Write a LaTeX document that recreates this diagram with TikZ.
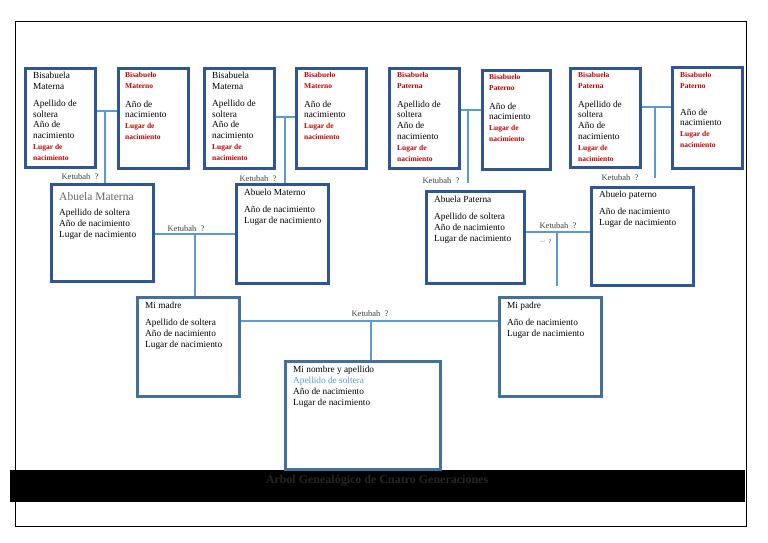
\documentclass[tikz,border=0pt]{standalone}
\usepackage{fontspec}
\setmainfont{Liberation Serif}
\newcommand{\rl}[1]{\textcolor{rd}{\fontsize{7.5}{8.5}\selectfont\bfseries #1}}
\newcommand{\rb}[1]{\textcolor{rd}{\fontsize{7.5}{9.5}\selectfont\bfseries #1}}
\begin{document}
\begin{tikzpicture}[x=1pt,y=-1pt,
 box/.style={draw=bdark,line width=3pt,anchor=north west,inner sep=0pt},
 boxl/.style={draw=blight,line width=3pt,anchor=north west,inner sep=0pt},
 txt/.style={anchor=north west,align=left,inner sep=0pt,font=\fontsize{9.3}{10.8}\selectfont},
 con/.style={draw=lb,line width=1.3pt},
 ket/.style={font=\fontsize{8.5}{9}\selectfont,text=black!75,inner sep=0pt}]
\definecolor{bdark}{HTML}{2F5597}
\definecolor{blight}{HTML}{41719C}
\definecolor{lb}{HTML}{5B9BD5}
\definecolor{rd}{HTML}{C00000}
\useasboundingbox (0,0) rectangle (768,543);
\fill[white] (0,0) rectangle (768,543);
\draw[line width=1pt] (15,22) rectangle (746,526);
\fill[black] (10,470) rectangle (745,502);
\node[font=\fontsize{12}{14}\selectfont\bfseries,text=black!85!white] (title) at (377,480) {Árbol Genealógico de Cuatro Generaciones};
% row 1
\node[box,minimum width=70,minimum height=99] (a1) at (24,67) {};
\node[box,minimum width=70,minimum height=100] (a2) at (117,67) {};
\node[box,minimum width=70,minimum height=100] (a3) at (203,67) {};
\node[box,minimum width=70,minimum height=100] (a4) at (295,67) {};
\node[box,minimum width=70,minimum height=100] (a5) at (388,67) {};
\node[box,minimum width=68,minimum height=99] (a6) at (481,69) {};
\node[box,minimum width=70,minimum height=99] (a7) at (569,67) {};
\node[box,minimum width=70,minimum height=101] (a8) at (671,66) {};
\node[txt] (t1) at (33,72) {Bisabuela\\Materna\\[6pt]Apellido de\\soltera\\Año de\\nacimiento\\\rl{Lugar de}\\\rl{nacimiento}};
\node[txt] (t2) at (125,72) {\rb{Bisabuelo}\\\rb{Materno}\\[8pt]Año de\\nacimiento\\\rl{Lugar de}\\\rl{nacimiento}};
\node[txt] (t3) at (212,72) {Bisabuela\\Materna\\[6pt]Apellido de\\soltera\\Año de\\nacimiento\\\rl{Lugar de}\\\rl{nacimiento}};
\node[txt] (t4) at (304,72) {\rb{Bisabuelo}\\\rb{Materno}\\[8pt]Año de\\nacimiento\\\rl{Lugar de}\\\rl{nacimiento}};
\node[txt] (t5) at (397,72) {\rb{Bisabuela}\\\rb{Paterna}\\[8pt]Apellido de\\soltera\\Año de\\nacimiento\\\rl{Lugar de}\\\rl{nacimiento}};
\node[txt] (t6) at (489,74) {\rb{Bisabuelo}\\\rb{Paterno}\\[8pt]Año de\\nacimiento\\\rl{Lugar de}\\\rl{nacimiento}};
\node[txt] (t7) at (578,72) {\rb{Bisabuela}\\\rb{Paterna}\\[8pt]Apellido de\\soltera\\Año de\\nacimiento\\\rl{Lugar de}\\\rl{nacimiento}};
\node[txt] (t8) at (680,72) {\rb{Bisabuelo}\\\rb{Paterno}\\[16pt]Año de\\nacimiento\\\rl{Lugar de}\\\rl{nacimiento}};
% row 2
\node[box,minimum width=102,minimum height=97] (b1) at (50,183) {};
\node[box,minimum width=92,minimum height=99] (b2) at (235,183) {};
\node[box,minimum width=98,minimum height=92] (b3) at (425,190) {};
\node[box,minimum width=102,minimum height=98] (b4) at (590,186) {};
\node[txt] (u1) at (59,192) {\textcolor{black!60}{\fontsize{11.5}{13}\selectfont Abuela Materna}\\[5pt]Apellido de soltera\\Año de nacimiento\\Lugar de nacimiento};
\node[txt] (u2) at (244,189) {Abuelo Materno\\[6pt]Año de nacimiento\\Lugar de nacimiento};
\node[txt] (u3) at (434,196) {Abuela Paterna\\[6pt]Apellido de soltera\\Año de nacimiento\\Lugar de nacimiento};
\node[txt] (u4) at (599,191) {Abuelo paterno\\[6pt]Año de nacimiento\\Lugar de nacimiento};
% row 3
\node[boxl,minimum width=102,minimum height=99] (c1) at (136,296) {};
\node[boxl,minimum width=102,minimum height=99] (c2) at (498,296) {};
\node[boxl,minimum width=155,minimum height=108] (me) at (284,360) {};
\node[txt] (v1) at (145,302) {Mi madre\\[6pt]Apellido de soltera\\Año de nacimiento\\Lugar de nacimiento};
\node[txt] (v2) at (507,302) {Mi padre\\[6pt]Año de nacimiento\\Lugar de nacimiento};
\node[txt] (v3) at (293,366) {Mi nombre y apellido\\\textcolor{lb}{Apellido de soltera}\\Año de nacimiento\\Lugar de nacimiento};
% connectors row1
\coordinate (j1) at (105,111); \draw[con] (a1.east|-j1) -- (a2.west|-j1); \draw[con] (j1) -- (j1|-b1.north);
\coordinate (j2) at (285,117); \draw[con] (a3.east|-j2) -- (a4.west|-j2); \draw[con] (j2) -- (j2|-b2.north);
\coordinate (j3) at (468,110); \coordinate (e3) at (468,183); \draw[con] (a5.east|-j3) -- (a6.west|-j3); \draw[con] (j3) -- (e3);
\coordinate (j4) at (655,107); \coordinate (e4) at (655,178); \draw[con] (a7.east|-j4) -- (a8.west|-j4); \draw[con] (j4) -- (e4);
\node[ket] (k1) at (80,177) {Ketubah\ \ ?};
\node[ket] (k2) at (258,179) {Ketubah\ \ ?};
\node[ket] (k3) at (441,181) {Ketubah\ \ ?};
\node[ket] (k4) at (620,178) {Ketubah\ \ ?};
% row2
\coordinate (j5) at (195,234); \draw[con] (b1.east|-j5) -- (b2.west|-j5); \draw[con] (j5) -- (j5|-c1.north);
\coordinate (j6) at (557,232); \coordinate (e6) at (557,286); \draw[con] (b3.east|-j6) -- (b4.west|-j6); \draw[con] (j6) -- (e6);
\node[ket] (k5) at (186,229) {Ketubah\ \ ?};
\node[ket] (k6) at (558,226) {Ketubah\ \ ?};
\node[ket,font=\fontsize{6}{7}\selectfont] (k7) at (546,242) {--\textperiodcentered\ \ ?};
% row3
\coordinate (j7) at (371,321); \draw[con] (c1.east|-j7) -- (c2.west|-j7); \draw[con] (j7) -- (j7|-me.north);
\node[ket] (k8) at (370,314) {Ketubah\ \ ?};
\end{tikzpicture}
\end{document}
